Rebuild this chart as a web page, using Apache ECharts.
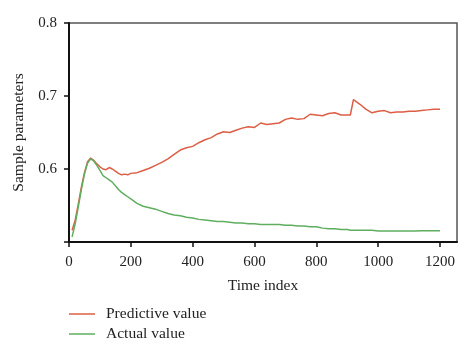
<!DOCTYPE html>
<html>
<head>
<meta charset="utf-8">
<script src="https://cdn.jsdelivr.net/npm/echarts@6/dist/echarts.min.js"></script>
<style>
html,body{margin:0;padding:0;background:#fff;}
#c{width:474px;height:356px;}
</style>
</head>
<body>
<div id="c"></div>
<script>
const timeIndex = [10,20,30,40,50,60,70,80,90,100,110,120,130,140,150,160,170,180,190,200,220,240,260,280,300,320,340,360,380,400,420,440,460,480,500,520,540,560,580,600,620,640,660,680,700,720,740,760,780,800,820,840,860,880,900,910,920,940,960,980,1000,1020,1040,1060,1080,1100,1120,1140,1160,1180,1200];
const predictive = [0.516,0.530,0.552,0.575,0.595,0.610,0.615,0.612,0.607,0.603,0.600,0.599,0.602,0.600,0.597,0.594,0.592,0.593,0.592,0.594,0.595,0.598,0.601,0.605,0.609,0.614,0.620,0.626,0.629,0.631,0.636,0.640,0.643,0.648,0.651,0.650,0.653,0.656,0.658,0.657,0.663,0.661,0.662,0.663,0.668,0.670,0.668,0.669,0.675,0.674,0.673,0.676,0.677,0.674,0.674,0.674,0.695,0.689,0.682,0.677,0.679,0.680,0.677,0.678,0.678,0.679,0.679,0.680,0.681,0.682,0.682];
const actual = [0.507,0.525,0.548,0.572,0.593,0.608,0.614,0.611,0.605,0.598,0.591,0.588,0.585,0.582,0.577,0.572,0.568,0.565,0.562,0.559,0.553,0.549,0.547,0.545,0.542,0.539,0.537,0.536,0.534,0.533,0.531,0.530,0.529,0.528,0.528,0.527,0.526,0.526,0.525,0.525,0.524,0.524,0.524,0.524,0.523,0.523,0.522,0.522,0.521,0.521,0.519,0.518,0.518,0.517,0.517,0.516,0.516,0.516,0.516,0.516,0.515,0.515,0.515,0.515,0.515,0.515,0.515,0.5155,0.5155,0.5155,0.5155];
const xTicks = [0,200,400,600,800,1000,1200];
const yTicks = [0.5,0.6,0.7,0.8];
const yLabels = ['','0.6','0.7','0.8'];
const seriesNames = ['Predictive value','Actual value'];

const font = 'Liberation Serif';
const chart = echarts.init(document.getElementById('c'), null, {renderer:'canvas'});
chart.setOption({
  animation:false,
  backgroundColor:'#fff',
  grid:{left:69,right:17,top:23,bottom:114,show:true,borderColor:'#555',borderWidth:1.5,backgroundColor:'transparent'},
  legend:{
    orient:'vertical',left:69,top:305,height:48,padding:0,itemWidth:26,itemHeight:1.5,itemGap:2,icon:'rect',
    data:seriesNames,
    textStyle:{fontFamily:font,fontSize:15.5,color:'#222',padding:[0,0,0,6],lineHeight:18}
  },
  xAxis:{
    type:'value',min:0,max:1255,
    name:'Time index',nameLocation:'middle',nameGap:36,
    nameTextStyle:{fontFamily:font,fontSize:15.5,color:'#222'},
    axisLine:{show:true,lineStyle:{color:'#111',width:2}},
    axisTick:{show:true,inside:false,length:5,lineStyle:{color:'#111',width:1.5},customValues:xTicks},
    axisLabel:{fontFamily:font,fontSize:15,color:'#222',margin:13,customValues:xTicks,
      formatter:function(v){return String(v);}},
    splitLine:{show:false}
  },
  yAxis:{
    type:'value',min:0.5,max:0.8,
    name:'Sample parameters',nameLocation:'middle',nameGap:37,
    nameTextStyle:{fontFamily:font,fontSize:15.5,color:'#222'},
    axisLine:{show:true,lineStyle:{color:'#111',width:2}},
    axisTick:{show:true,inside:false,length:5,lineStyle:{color:'#111',width:1.5},customValues:yTicks},
    axisLabel:{fontFamily:font,fontSize:15,color:'#222',margin:12,customValues:yTicks.slice(1),
      formatter:function(v){const i=yTicks.findIndex(t=>Math.abs(t-v)<1e-6);return i>=0?yLabels[i]:'';}},
    splitLine:{show:false}
  },
  series:[
    {name:seriesNames[0],type:'line',symbol:'none',data:timeIndex.map((x,i)=>[x,predictive[i]]),
     lineStyle:{color:'#dc5f45',width:1.5},itemStyle:{color:'#dc5f45'}},
    {name:seriesNames[1],type:'line',symbol:'none',data:timeIndex.map((x,i)=>[x,actual[i]]),
     lineStyle:{color:'#5fae5f',width:1.5},itemStyle:{color:'#5fae5f'}}
  ]
});
</script>
</body>
</html>
